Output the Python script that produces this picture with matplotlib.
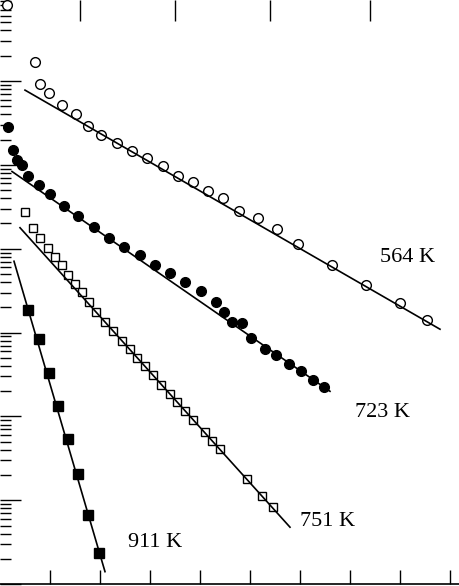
import matplotlib
matplotlib.use("Agg")
import matplotlib.pyplot as plt
import numpy as np

# log10 of y values, x in arbitrary units
c564_x = [0.07,0.35,0.40,0.49,0.62,0.76,0.88,1.01,1.17,1.32,1.47,1.63,1.78,1.93,2.08,2.23,2.39,2.58,2.77,2.98,3.32,3.66,4.00,4.27]
c564_y = [6.90,6.23,5.96,5.85,5.71,5.61,5.46,5.35,5.26,5.17,5.08,4.98,4.87,4.79,4.69,4.60,4.45,4.37,4.24,4.06,3.80,3.57,3.35,3.15]
l564 = ([0.25,4.40],[5.89,3.04])

c723_x = [0.08,0.13,0.17,0.22,0.28,0.39,0.50,0.64,0.78,0.94,1.09,1.24,1.40,1.55,1.70,1.85,2.01,2.16,2.24,2.32,2.42,2.51,2.65,2.76,2.89,3.01,3.13,3.24]
c723_y = [5.45,5.18,5.06,5.00,4.87,4.76,4.65,4.51,4.39,4.26,4.13,4.02,3.92,3.81,3.71,3.60,3.49,3.37,3.25,3.13,3.11,2.93,2.81,2.73,2.62,2.54,2.44,2.35]
l723 = ([0.12,3.30],[4.92,2.30])

s751_y = [4.44,4.25,4.13,4.01,3.90,3.80,3.69,3.58,3.48,3.37,3.24,3.13,3.02,2.90,2.80,2.70,2.60,2.49,2.38,2.27,2.17,2.07,1.96,1.81,1.71,1.61,1.25,1.05,0.92]
s751_x = [0.25,0.33,0.40,0.48,0.55,0.62,0.68,0.75,0.82,0.89,0.96,1.05,1.13,1.22,1.30,1.37,1.45,1.53,1.61,1.70,1.77,1.85,1.93,2.05,2.12,2.20,2.47,2.62,2.73]
l751 = ([0.20,2.90],[4.25,0.68])

s911_x = [0.28,0.39,0.49,0.58,0.68,0.78,0.88,0.99]
s911_y = [3.27,2.92,2.52,2.12,1.73,1.32,0.82,0.37]
l911 = ([0.14,1.05],[3.85,0.15])

labels = ["564 K","723 K","751 K","911 K"]
label_pos = [(3.80,3.90),(3.55,2.05),(3.00,0.75),(1.28,0.50)]

plt.rcParams['font.family'] = ['Liberation Serif']
fig = plt.figure(figsize=(4.6,5.86), dpi=100)
ax = fig.add_axes([0,0.003,1,0.997])
ax.set_yscale('log')
ax.set_xlim(0,4.6)
ax.set_ylim(1, 10**(585/84))
p = lambda a: 10**np.array(a)
ms=7
ax.plot(c564_x, p(c564_y), 'o', mfc='white', mec='black', ms=ms, mew=1)
ax.plot(l564[0], p(l564[1]), 'k-', lw=1.2)
ax.plot(c723_x, p(c723_y), 'o', mfc='black', mec='black', ms=ms)
ax.plot(l723[0], p(l723[1]), 'k-', lw=1.2)
ax.plot(s751_x, p(s751_y), 's', mfc='white', mec='black', ms=6, mew=1)
ax.plot(l751[0], p(l751[1]), 'k-', lw=1.2)
ax.plot(s911_x, p(s911_y), 's', mfc='black', mec='black', ms=6.5)
ax.plot(l911[0], p(l911[1]), 'k-', lw=1.2)
for t,(x,y) in zip(labels,label_pos):
    ax.text(x, 10**y, t, fontsize=16, ha='left', va='center')
for s in ['top','right','left']:
    ax.spines[s].set_visible(False)
ax.spines['bottom'].set_linewidth(1.2)
ax.set_xticks(np.arange(0.5,4.6,0.5))
ax.tick_params(axis='x', direction='in', length=10, width=1, labelbottom=False)
ax.tick_params(axis='y', which='major', direction='in', length=15, width=1, labelleft=False)
ax.tick_params(axis='y', which='minor', direction='in', length=8, width=1, labelleft=False)
ax2 = ax.twiny()
ax2.set_xlim(0,4.6)
ax2.set_xticks([0.8,1.75,2.7,3.7])
ax2.tick_params(axis='x', direction='in', length=15, width=1, labeltop=False)
for s in ax2.spines.values():
    s.set_visible(False)
fig.savefig('out.png', dpi=100)
